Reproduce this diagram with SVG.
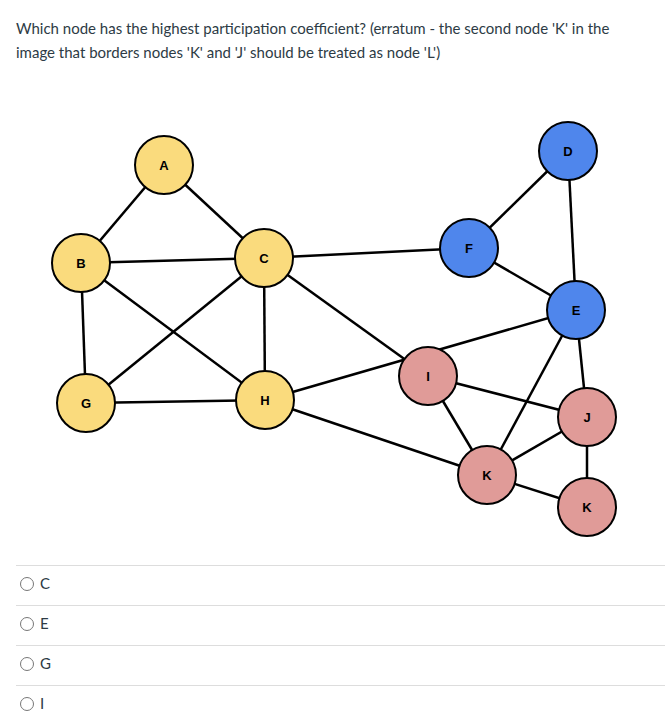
<svg xmlns="http://www.w3.org/2000/svg" width="665" height="725" viewBox="0 0 665 725">
<style>
.q{font-family:Lato,"Liberation Sans",sans-serif;font-size:15px;fill:#2d3b45}
.e line{stroke:#000;stroke-width:2.5}
.n circle{stroke:#000;stroke-width:2}
.y{fill:#FADB7D}.b{fill:#4F86EC}.p{fill:#E09B98}
.n text{font-family:"Liberation Sans",Arial,sans-serif;font-weight:bold;font-size:13px;text-anchor:middle;dominant-baseline:central;fill:#000}
.sep{stroke:#ddd;stroke-width:1}
.r{fill:#fff;stroke:#777;stroke-width:1}
</style>
<rect width="665" height="725" fill="#fff"/>
<text class="q" x="16" y="34">Which node has the highest participation coefficient? (erratum - the second node 'K' in the</text>
<text class="q" x="16" y="58">image that borders nodes 'K' and 'J' should be treated as node 'L')</text>
<g class="e" id="edges">
<line x1="164" y1="165" x2="81" y2="263"/><line x1="164" y1="165" x2="264" y2="258"/>
<line x1="81" y1="263" x2="264" y2="258"/><line x1="81" y1="263" x2="86" y2="403"/>
<line x1="81" y1="263" x2="265" y2="400"/><line x1="264" y1="258" x2="86" y2="403"/>
<line x1="264" y1="258" x2="265" y2="400"/><line x1="264" y1="258" x2="469" y2="248"/>
<line x1="264" y1="258" x2="428" y2="376"/><line x1="86" y1="403" x2="265" y2="400"/>
<line x1="265" y1="400" x2="576" y2="310"/><line x1="265" y1="400" x2="487" y2="475"/>
<line x1="428" y1="376" x2="587" y2="417"/><line x1="428" y1="376" x2="487" y2="475"/>
<line x1="469" y1="248" x2="568" y2="151"/><line x1="469" y1="248" x2="576" y2="310"/>
<line x1="568" y1="151" x2="576" y2="310"/><line x1="576" y1="310" x2="587" y2="417"/>
<line x1="576" y1="310" x2="487" y2="475"/><line x1="487" y1="475" x2="587" y2="417"/>
<line x1="487" y1="475" x2="587" y2="507"/><line x1="587" y1="417" x2="587" y2="507"/>
</g>
<g class="n" id="A"><circle class="y" cx="164" cy="165" r="29"/><text x="164" y="165">A</text></g>
<g class="n" id="B"><circle class="y" cx="81" cy="263" r="29"/><text x="81" y="263">B</text></g>
<g class="n" id="C"><circle class="y" cx="264" cy="258" r="29"/><text x="264" y="258">C</text></g>
<g class="n" id="G"><circle class="y" cx="86" cy="403" r="29"/><text x="86" y="403">G</text></g>
<g class="n" id="H"><circle class="y" cx="265" cy="400" r="29"/><text x="265" y="400">H</text></g>
<g class="n" id="D"><circle class="b" cx="568" cy="151" r="29"/><text x="568" y="151">D</text></g>
<g class="n" id="F"><circle class="b" cx="469" cy="248" r="29"/><text x="469" y="248">F</text></g>
<g class="n" id="E"><circle class="b" cx="576" cy="310" r="29"/><text x="576" y="310">E</text></g>
<g class="n" id="I"><circle class="p" cx="428" cy="376" r="29"/><text x="428" y="376">I</text></g>
<g class="n" id="J"><circle class="p" cx="587" cy="417" r="29"/><text x="587" y="417">J</text></g>
<g class="n" id="K1"><circle class="p" cx="487" cy="475" r="29"/><text x="487" y="475">K</text></g>
<g class="n" id="K2"><circle class="p" cx="587" cy="507" r="29"/><text x="587" y="507">K</text></g>
<line class="sep" x1="16" y1="565.5" x2="665" y2="565.5"/>
<line class="sep" x1="16" y1="605.5" x2="665" y2="605.5"/>
<line class="sep" x1="16" y1="645.5" x2="665" y2="645.5"/>
<line class="sep" x1="16" y1="685.5" x2="665" y2="685.5"/>
<circle class="r" cx="27" cy="584" r="6.5"/><text class="q" x="40" y="589">C</text>
<circle class="r" cx="27" cy="624" r="6.5"/><text class="q" x="40" y="629">E</text>
<circle class="r" cx="27" cy="664" r="6.5"/><text class="q" x="40" y="669">G</text>
<circle class="r" cx="27" cy="704" r="6.5"/><text class="q" x="40" y="709">I</text>
</svg>
